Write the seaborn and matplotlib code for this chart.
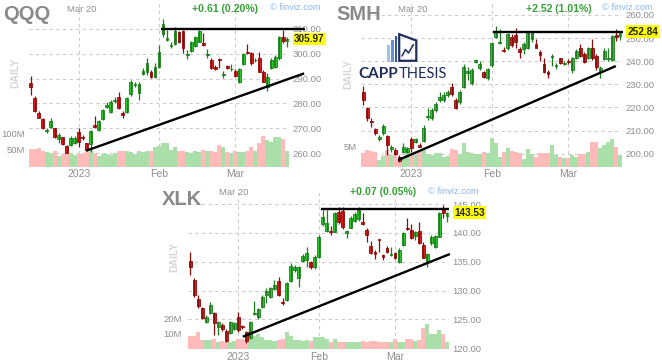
import numpy as np
import pandas as pd
import matplotlib
matplotlib.use("Agg")
import matplotlib.pyplot as plt
import matplotlib.transforms as mtransforms
from matplotlib.patches import Rectangle, Polygon
from matplotlib.lines import Line2D
import seaborn as sns

sns.set_theme(style="white")
plt.rcParams['font.family'] = ['Liberation Sans', 'DejaVu Sans']

W, H = 662, 363

# trading days shown on the charts
dates = pd.bdate_range('2022-12-14', '2023-03-20', freq='C',
                       holidays=['2022-12-26', '2023-01-02', '2023-01-16', '2023-02-20'])

# ---------------- QQQ ----------------
qqq_open = [288.1, 282.0, 276.0, 273.6, 268.9, 270.6, 269.9, 265.6, 266.3, 262.7, 263.2, 263.9,
            268.3, 266.6, 263.9, 263.5, 271.3, 269.3, 273.7, 278.7, 276.7, 280.8, 282.7, 276.3, 276.7, 283.7, 287.4, 284.1, 291.9, 292.8, 292.8, 290.8,
            294.8, 308.0, 305.4, 303.1, 304.0, 308.9, 309.2, 299.6, 301.3, 303.3, 304.9, 304.2, 299.6, 297.5, 294.8, 297.9, 291.5, 295.1, 293.7,
            293.2, 288.8, 295.8, 300.9, 300.2, 297.3, 298.4, 292.8, 286.8, 294.4, 294.8, 298.2, 306.6, 305.0]
qqq_high = [291.2, 283.1, 276.9, 274.0, 269.9, 274.3, 270.2, 267.9, 266.6, 263.2, 266.9, 266.9,
            270.2, 267.3, 264.2, 269.3, 274.9, 273.3, 277.6, 280.4, 281.4, 282.7, 284.5, 276.9, 282.7, 289.4, 288.8, 288.5, 294.1, 298.2, 293.5, 296.2,
            303.6, 314.0, 309.6, 304.6, 311.0, 309.2, 309.6, 301.5, 305.2, 307.3, 309.6, 308.3, 301.9, 298.4, 295.5, 298.4, 293.1, 295.5, 295.8,
            293.7, 294.4, 300.2, 303.8, 300.6, 298.4, 300.9, 293.5, 292.1, 298.2, 299.5, 307.3, 309.6, 306.6]
qqq_low = [283.4, 276.4, 274.0, 269.7, 267.9, 270.2, 266.2, 263.9, 263.2, 259.9, 263.0, 263.5,
           262.6, 265.2, 260.8, 260.5, 270.2, 268.9, 273.3, 278.0, 276.0, 280.0, 277.7, 274.0, 276.0, 283.1, 286.8, 281.4, 291.5, 291.5, 290.1, 290.1,
           294.1, 306.9, 305.2, 302.5, 303.6, 304.2, 300.2, 297.8, 300.9, 302.9, 304.6, 303.3, 298.2, 293.9, 293.5, 294.1, 290.1, 293.9, 293.2,
           290.8, 288.1, 295.5, 299.8, 295.5, 296.6, 292.5, 288.5, 285.0, 293.9, 294.1, 297.5, 304.5, 302.9]
qqq_close = [286.8, 276.9, 274.3, 269.9, 269.3, 273.0, 266.6, 267.3, 263.5, 260.1, 266.2, 265.9,
             264.6, 266.0, 261.2, 268.9, 270.6, 272.9, 277.3, 279.4, 280.7, 281.3, 278.0, 275.3, 282.3, 288.8, 287.8, 287.7, 293.2, 296.2, 290.5, 294.7,
             300.9, 312.1, 306.2, 303.5, 309.2, 304.9, 302.5, 299.8, 304.6, 306.6, 309.2, 303.6, 300.0, 294.4, 293.9, 297.5, 291.9, 294.1, 294.0,
             291.2, 293.9, 299.8, 300.2, 296.2, 297.7, 292.8, 288.8, 290.8, 297.5, 298.8, 306.9, 305.36, 305.97]
qqq_volume = [56, 55, 59, 50, 44, 42, 48, 33, 39, 39, 41, 36,
              39, 41, 44, 50, 41, 33, 39, 39, 37, 41, 47, 47, 50, 44, 39, 47, 44, 48, 48, 61,
              63, 74, 72, 52, 61, 50, 48, 44, 41, 48, 44, 52, 48, 50, 44, 67, 60, 44, 41,
              50, 44, 44, 50, 61, 50, 74, 94, 83, 78, 91, 91, 86, 50]
qqq_res_x, qqq_res_y = [32.5, 68.4], [309.9, 309.9]
qqq_sup_x, qqq_sup_y = [13.8, 68.2], [260.9, 292.1]

# ---------------- SMH ----------------
smh_open = [226.5, 219.6, 214.1, 210.5, 206.3, 208.8, 207.6, 202.0, 201.6, 198.4, 200.8, 200.5,
            206.3, 205.2, 203.7, 205.5, 215.8, 215.3, 218.9, 223.2, 223.2, 225.4, 229.0, 223.2, 222.2, 229.0, 234.7, 230.4, 239.8, 236.9, 235.2, 232.6,
            238.4, 250.6, 248.0, 244.8, 245.6, 250.6, 251.3, 245.1, 245.1, 245.9, 249.6, 247.3, 243.8, 238.6, 235.2, 241.8, 237.9, 241.2, 238.9,
            240.0, 236.2, 241.5, 245.6, 243.0, 241.5, 245.9, 242.4, 235.2, 241.0, 240.9, 240.5, 251.3, 251.0]
smh_high = [229.4, 220.3, 215.3, 211.2, 208.1, 212.7, 208.1, 203.7, 202.3, 199.4, 204.4, 203.0,
            207.3, 206.6, 204.4, 212.5, 219.6, 219.9, 222.2, 226.5, 226.8, 227.5, 230.4, 223.9, 227.5, 238.6, 237.6, 236.9, 241.0, 240.1, 235.8, 237.2,
            248.5, 255.4, 253.9, 246.3, 252.1, 251.6, 254.2, 246.3, 248.2, 253.1, 253.1, 249.6, 244.8, 241.2, 236.2, 243.0, 239.1, 241.5, 240.1,
            241.0, 242.0, 245.3, 247.3, 243.8, 246.3, 249.6, 243.0, 238.1, 245.6, 245.6, 251.3, 253.9, 253.2]
smh_low = [221.0, 214.1, 211.7, 208.1, 205.5, 208.1, 199.4, 200.5, 199.4, 196.5, 200.1, 200.1,
           200.8, 204.4, 202.7, 205.2, 214.5, 214.5, 217.9, 222.2, 222.5, 224.6, 225.1, 219.3, 221.3, 228.5, 231.9, 229.7, 239.1, 236.2, 232.6, 231.9,
           237.6, 250.2, 247.3, 243.8, 244.8, 246.3, 245.6, 241.2, 243.0, 245.3, 248.5, 245.6, 240.1, 234.7, 232.9, 238.1, 236.6, 238.6, 238.4,
           238.7, 234.7, 241.0, 242.0, 239.1, 241.0, 240.5, 236.2, 232.6, 240.5, 240.1, 240.1, 248.7, 249.0]
smh_close = [223.2, 215.3, 213.5, 208.8, 207.2, 212.0, 203.7, 203.0, 199.7, 196.9, 203.0, 202.6,
             202.3, 206.2, 203.0, 210.9, 216.2, 218.9, 221.3, 224.6, 225.4, 226.5, 225.7, 219.9, 226.8, 237.6, 235.8, 236.2, 240.5, 238.6, 233.3, 236.5,
             247.7, 252.8, 248.4, 244.2, 251.6, 247.0, 248.2, 244.1, 247.3, 252.5, 252.5, 245.9, 242.7, 235.2, 234.3, 242.2, 238.3, 239.1, 239.3,
             239.5, 241.2, 244.4, 242.4, 239.8, 245.9, 241.5, 237.6, 237.2, 244.4, 241.4, 251.1, 250.32, 252.84]
smh_volume = [3.6, 4.4, 4.2, 3.9, 1.8, 2.7, 4.4, 3.0, 3.5, 2.1, 2.4, 3.5,
              3.5, 3.0, 4.4, 4.4, 3.3, 3.0, 3.5, 3.5, 2.6, 2.8, 4.6, 4.4, 3.3, 6.3, 3.8, 3.5, 3.3, 3.3, 3.9, 3.6,
              7.7, 6.2, 2.6, 3.9, 4.8, 4.1, 3.9, 3.5, 2.1, 4.7, 3.3, 2.6, 3.5, 3.5, 3.5, 5.7, 3.1, 2.6, 2.2,
              2.2, 3.1, 2.6, 3.3, 3.3, 3.9, 6.6, 6.6, 4.8, 5.7, 6.6, 7.2, 5.2, 3.1]
smh_res_x, smh_res_y = [32.4, 64.6], [252.5, 252.5]
smh_sup_x, smh_sup_y = [8.7, 62.9], [197.2, 237.9]

# ---------------- XLK ----------------
xlk_open = [135.1, 131.8, 128.5, 126.9, 124.6, 126.1, 126.1, 123.6, 124.0, 123.0, 122.6, 123.3,
            125.5, 123.8, 122.8, 121.8, 125.9, 125.5, 127.2, 129.2, 128.9, 130.3, 131.7, 128.1, 128.4, 131.7, 133.6, 132.1, 135.2, 135.3, 134.9, 134.0,
            135.9, 141.5, 140.3, 140.3, 140.2, 143.6, 143.8, 139.9, 140.9, 142.1, 142.4, 141.8, 140.5, 137.8, 136.7, 138.9, 136.1, 137.4, 136.2,
            136.5, 135.0, 137.9, 140.9, 140.5, 139.5, 140.3, 137.9, 135.0, 138.2, 137.6, 139.3, 144.0, 142.9]
xlk_high = [136.6, 132.1, 129.3, 127.2, 125.8, 128.1, 126.2, 124.7, 124.3, 123.3, 124.7, 124.6,
            126.3, 124.0, 123.0, 124.7, 128.2, 127.0, 129.2, 130.5, 130.7, 131.8, 132.4, 128.7, 131.4, 134.7, 134.4, 134.3, 136.3, 137.6, 135.1, 136.2,
            139.6, 144.0, 144.0, 141.2, 143.7, 144.4, 144.5, 140.5, 143.0, 143.6, 144.5, 143.4, 140.8, 138.6, 137.0, 138.9, 136.3, 137.8, 137.6,
            136.6, 137.3, 140.1, 142.5, 141.6, 140.3, 141.8, 138.5, 136.5, 139.7, 139.7, 143.7, 144.9, 143.7]
xlk_low = [132.7, 128.9, 127.0, 125.1, 124.3, 125.9, 122.3, 122.3, 123.0, 121.1, 122.4, 123.2,
           122.8, 123.3, 120.9, 121.6, 125.8, 125.1, 127.0, 127.8, 128.7, 130.1, 129.1, 127.5, 128.2, 131.4, 133.3, 130.7, 135.0, 134.0, 133.7, 133.7,
           135.6, 141.2, 140.1, 139.6, 140.1, 141.5, 140.7, 139.1, 140.8, 141.8, 142.1, 141.4, 138.5, 136.3, 135.5, 136.6, 135.3, 136.5, 136.0,
           135.5, 134.7, 137.8, 140.5, 138.9, 138.8, 138.0, 135.6, 134.0, 137.9, 137.3, 139.2, 142.6, 141.8]
xlk_close = [134.1, 129.2, 127.4, 125.3, 125.4, 127.5, 124.4, 124.5, 123.3, 121.3, 124.5, 124.3,
             123.2, 123.6, 121.2, 124.5, 126.1, 126.8, 128.9, 129.9, 130.4, 131.0, 129.2, 127.8, 131.3, 134.3, 134.1, 134.0, 136.0, 136.5, 134.0, 135.9,
             139.2, 142.8, 141.7, 140.1, 143.4, 141.8, 141.1, 140.3, 142.6, 143.2, 144.0, 141.6, 139.7, 136.5, 136.3, 138.7, 135.9, 136.7, 136.4,
             135.6, 137.0, 139.9, 140.7, 139.1, 140.1, 138.2, 135.7, 136.3, 139.3, 139.5, 143.4, 143.46, 143.53]
xlk_volume = [9.1, 9.1, 11.4, 6.3, 6.3, 6.3, 7.0, 4.9, 5.6, 4.9, 4.9, 5.6,
              7.0, 7.0, 6.3, 7.0, 9.1, 10.0, 8.0, 6.3, 6.3, 5.6, 6.3, 7.0, 11.4, 9.1, 6.0, 6.3, 5.6, 5.8, 5.6, 7.9,
              7.9, 7.9, 6.8, 4.4, 6.8, 5.0, 5.0, 4.4, 4.4, 4.4, 5.0, 5.6, 4.4, 5.6, 5.6, 5.0, 4.4, 5.0, 4.4,
              6.8, 4.4, 4.4, 6.8, 6.5, 5.6, 6.3, 14.2, 16.6, 10.3, 10.3, 12.6, 10.3, 4.4]
xlk_res_x, xlk_res_y = [32.6, 64.5], [144.13, 144.13]
xlk_sup_x, xlk_sup_y = [13.1, 64.65], [122.0, 136.33]

# colours
UP_FILL, UP_EDGE = '#2fd12f', '#1b7d1b'
DN_FILL, DN_EDGE = '#e31b1b', '#8c0c0c'
VOL_UP, VOL_DN = '#aadfaa', '#ffbaba'
GRID = '#cccccc'
TXT = '#8f8f8f'

month_pos, month_lab = [], []
for i in range(1, len(dates)):
    if dates[i].month != dates[i - 1].month:
        month_pos.append(i)
        month_lab.append(str(dates[i].year) if dates[i].month == 1 else dates[i].strftime('%b'))


def rect_px(left, top, right, bottom):
    return [left / W, 1 - bottom / H, (right - left) / W, (bottom - top) / H]


fig = plt.figure(figsize=(6.62, 3.63), dpi=100)
PX = mtransforms.Affine2D().scale(1 / W, -1 / H).translate(0, 1) + fig.transFigure


def draw_panel(box, o, h, l, c, vol, price_lim, price_ticks, vol_top, vol_marks, vol_label_x,
               res, sup, ticker, head):
    o, h, l, c = map(np.asarray, (o, h, l, c))
    n = len(c)
    idx = np.arange(n)
    up = c >= o

    # price axis: grid + tick labels
    ax = fig.add_axes(rect_px(*box))
    ax.set_xlim(-0.5, n - 0.5)
    ax.set_ylim(*price_lim)
    for s in ax.spines.values():
        s.set_visible(False)
    ax.yaxis.tick_right()
    ax.set_yticks(price_ticks)
    ax.set_yticklabels([f'{t:.2f}' for t in price_ticks])
    ax.set_xticks(month_pos)
    ax.set_xticklabels(month_lab)
    ax.tick_params(axis='y', length=0, pad=2.5, labelsize=6.8, labelcolor=TXT)
    ax.tick_params(axis='x', length=0, pad=2, labelsize=7.5, labelcolor=TXT)
    ax.grid(True, color=GRID, linestyle=(0, (3, 3)), linewidth=0.8)

    # volume
    ax_v = fig.add_axes(rect_px(*box))
    ax_v.patch.set_alpha(0)
    vol_df = pd.DataFrame({'i': idx, 'vol': vol, 'dir': np.where(up, 'up', 'down')})
    sns.barplot(data=vol_df, x='i', y='vol', hue='dir', palette={'up': VOL_UP, 'down': VOL_DN},
                dodge=False, width=1.0, saturation=1, legend=False, errorbar=None,
                linewidth=0, ax=ax_v)
    ax_v.set_xlim(-0.5, n - 0.5)
    ax_v.set_ylim(0, vol_top)
    ax_v.axis('off')
    tr = mtransforms.blended_transform_factory(PX, ax_v.transData)
    for m in vol_marks:
        ax_v.text(vol_label_x, m, f'{m}M', transform=tr, ha='right', va='center',
                  fontsize=6.8, color=TXT, clip_on=False)

    # candles
    ax_c = fig.add_axes(rect_px(*box))
    ax_c.patch.set_alpha(0)
    ax_c.set_xlim(-0.5, n - 0.5)
    ax_c.set_ylim(*price_lim)
    ax_c.axis('off')
    edges = np.where(up, UP_EDGE, DN_EDGE)
    fills = np.where(up, UP_FILL, DN_FILL)
    ax_c.vlines(idx, l, h, colors=edges, linewidth=0.9)
    ax_c.bar(idx, np.abs(c - o), bottom=np.minimum(o, c), width=0.72,
             color=fills, edgecolor=edges, linewidth=0.6)

    # trend lines
    ax_c.plot(res[0], res[1], color='black', lw=1.7, clip_on=False, solid_capstyle='butt')
    ax_c.plot(sup[0], sup[1], color='black', lw=1.7, clip_on=False, solid_capstyle='butt')

    # last price label
    trl = mtransforms.blended_transform_factory(ax_c.transAxes, ax_c.transData)
    ax_c.text(1.019, c[-1], f'{c[-1]:.2f}', transform=trl, ha='left', va='center',
              fontsize=7.2, fontweight='bold', color='#222222', clip_on=False, zorder=10,
              bbox=dict(boxstyle='square,pad=0.12', fc='#ffff00', ec='none'))

    # header texts
    tx, ty = head['ticker']
    fig.text(tx / W, 1 - ty / H, ticker, fontsize=14.5, fontweight='bold', color='#8a8a8a', va='baseline')
    dx, dy = head['date']
    fig.text(dx / W, 1 - dy / H, dates[-1].strftime('%b %d').replace(' 0', ' '), fontsize=6.8,
             color=TXT, va='baseline')
    chg = c[-1] - c[-2]
    pct = chg / c[-2] * 100
    cx, cy = head['change']
    fig.text(cx / W, 1 - cy / H, f'{chg:+.2f} ({pct:.2f}%)', fontsize=7.6, fontweight='bold',
             color='#36a236', va='baseline')
    fx, fy = head['finviz']
    fig.text(fx / W, 1 - fy / H, '\u00a9 finviz.com', fontsize=6.7, color='#8db6e3', va='baseline')
    ax_x, ax_y = head['daily']
    fig.text(ax_x / W, 1 - ax_y / H, 'DAILY', fontsize=7.5, fontweight='bold', color='#d6d6d6',
             rotation=90, ha='center', va='center')


draw_panel((28.7, 3, 289.3, 166.5), qqq_open, qqq_high, qqq_low, qqq_close, qqq_volume,
           (254.56, 320.48), [260, 270, 280, 290, 300, 310], 511, [50, 100], 25,
           (qqq_res_x, qqq_res_y), (qqq_sup_x, qqq_sup_y), 'QQQ',
           {'ticker': (3, 20.5), 'date': (67, 12), 'change': (192, 11.8), 'finviz': (270, 10.5),
            'daily': (15.5, 73)})

draw_panel((361.3, 3, 622.3, 166.5), smh_open, smh_high, smh_low, smh_close, smh_volume,
           (194.42, 265.19), [200, 210, 220, 230, 240, 250, 260], 43.5, [5], 357,
           (smh_res_x, smh_res_y), (smh_sup_x, smh_sup_y), 'SMH',
           {'ticker': (336, 20.5), 'date': (398, 12), 'change': (526, 11.8), 'finviz': (602, 10.5),
            'daily': (348.5, 74)})

draw_panel((188.1, 190, 449.3, 349), xlk_open, xlk_high, xlk_low, xlk_close, xlk_volume,
           (119.87, 147.43), [120, 125, 130, 135, 140, 145], 107.4, [10, 20], 182,
           (xlk_res_x, xlk_res_y), (xlk_sup_x, xlk_sup_y), 'XLK',
           {'ticker': (162, 205), 'date': (219, 195), 'change': (350, 195.5), 'finviz': (428, 194.5),
            'daily': (174, 257)})

# CAPPTHESIS logo (decoration on the SMH chart)
NAVY = '#1f2d5c'
fig.add_artist(Rectangle((387.3, 45), 2.6, 16.7, transform=PX, color='#9cc3ec', lw=0))
fig.add_artist(Rectangle((390.9, 40), 2.6, 21.7, transform=PX, color='#5f93d6', lw=0))
fig.add_artist(Rectangle((394.5, 35.5), 2.6, 26.2, transform=PX, color='#33589f', lw=0))
fig.add_artist(Polygon([(399.2, 34.2), (416.3, 40.5), (416.3, 60.8), (399.2, 60.8)], closed=True,
                       fill=False, ec=NAVY, lw=1.6, transform=PX, joinstyle='miter'))
fig.add_artist(Line2D([402, 405.5, 408.5, 413.5], [56, 49.5, 53, 44.5], transform=PX,
                      color=NAVY, lw=1.1))
fig.text(358 / W, 1 - 78.3 / H, 'CAPP', fontsize=11, fontweight='bold', color=NAVY,
         family='Lato', va='baseline')
fig.text(399 / W, 1 - 78.3 / H, 'THESIS', fontsize=10.6, color=NAVY, family='Lato', va='baseline')

fig.savefig('out.png', dpi=100)
